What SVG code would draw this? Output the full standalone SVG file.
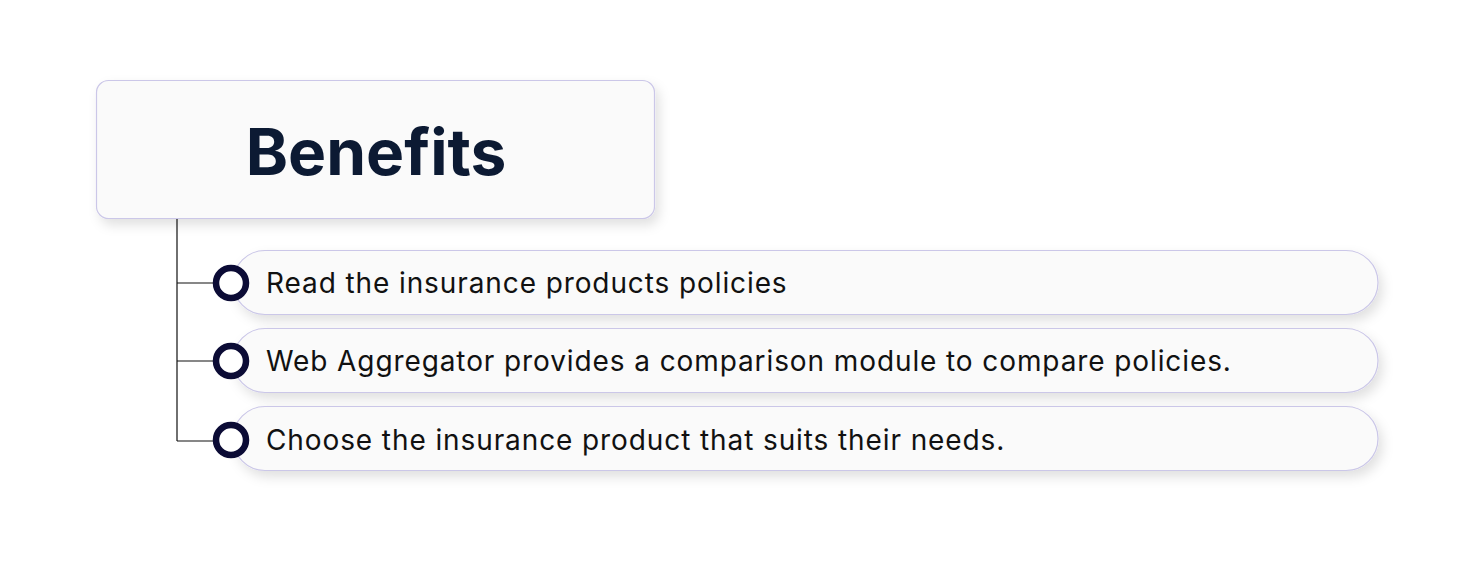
<svg xmlns="http://www.w3.org/2000/svg" width="1457" height="562" viewBox="0 0 1457 562">
<defs>
<filter id="sh" x="-10%" y="-30%" width="120%" height="170%">
<feDropShadow dx="4" dy="6" stdDeviation="6" flood-color="#000" flood-opacity="0.12"/>
</filter>
</defs>
<style>
.box{fill:#fafafa;stroke:#cbc7e8;stroke-width:1.2;filter:url(#sh)}
.item{font-family:Inter,"Liberation Sans",sans-serif;font-size:28px;letter-spacing:0.9px;fill:#111111}
.title{font-family:Inter,"Liberation Sans",sans-serif;font-size:64px;font-weight:700;fill:#0c1a33}
.dot{fill:#ffffff;stroke:#0b0b35;stroke-width:6.5}
.conn{fill:none;stroke:#111;stroke-width:1.2}
</style>
<rect width="1457" height="562" fill="#ffffff"/>
<g id="connectors">
<path class="conn" d="M177 219 V441 M177 283 H216 M177 361 H216 M177 441 H216"/>
</g>
<g id="title">
<rect class="box" x="96.5" y="80.5" width="558" height="138" rx="12"/>
<text class="title" x="376" y="175" text-anchor="middle">Benefits</text>
</g>
<g id="item1">
<rect class="box" x="233" y="250.5" width="1145" height="64" rx="32"/>
<circle class="dot" cx="231" cy="283" r="15"/>
<text class="item" x="266" y="293">Read the insurance products policies</text>
</g>
<g id="item2">
<rect class="box" x="233" y="328.5" width="1145" height="64" rx="32"/>
<circle class="dot" cx="231" cy="361" r="15"/>
<text class="item" x="266" y="371">Web Aggregator provides a comparison module to compare policies.</text>
</g>
<g id="item3">
<rect class="box" x="233" y="406.5" width="1145" height="64" rx="32"/>
<circle class="dot" cx="231" cy="440" r="15"/>
<text class="item" x="266" y="450">Choose the insurance product that suits their needs.</text>
</g>
</svg>
